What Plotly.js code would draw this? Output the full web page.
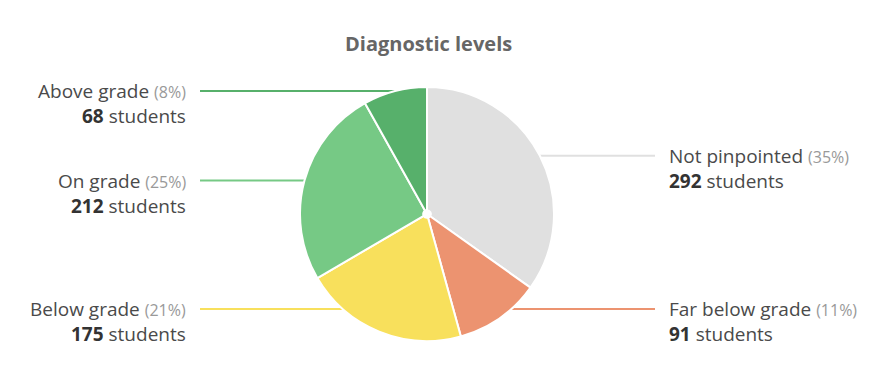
<!DOCTYPE html>
<html>
<head>
<meta charset="utf-8">
<script src="https://cdn.plot.ly/plotly-3.0.1.min.js"></script>
<style>html,body{margin:0;padding:0;background:#fff;}#chart{width:869px;height:385px;}</style>
</head>
<body>
<div id="chart"></div>
<script>
const categories = ['Not pinpointed', 'Far below grade', 'Below grade', 'On grade', 'Above grade'];
const students = [292, 91, 175, 212, 68];
const sliceColors = ['#e0e0e0', '#ec9370', '#f8e05c', '#76c985', '#57b06b'];
const chartTitle = 'Diagnostic levels';

const W = 869, H = 385;
const cx = 427, cy = 214, R = 127;
const leftLineX = 200, rightLineX = 655, labelGap = 12;
const maxLabelY = cy + 95;
const lineStep = 25;

const total = students.reduce((a, b) => a + b, 0);
const px = x => x / W;
const py = y => 1 - y / H;

const shapes = [];
const annotations = [];
let cum = 0;
categories.forEach((name, i) => {
  const v = students[i];
  const mid = (cum + v / 2) / total * 2 * Math.PI; // angle from 12 o'clock, clockwise
  cum += v;
  const right = Math.sin(mid) >= 0;
  let ly = cy - R * Math.cos(mid);
  ly = Math.min(ly, maxLabelY);
  const dy = ly - cy;
  const edgeDx = Math.sqrt(Math.max(0, R * R - dy * dy));
  const edgeX = right ? cx + edgeDx : cx - edgeDx;
  const outerX = right ? rightLineX : leftLineX;
  shapes.push({
    type: 'line', xref: 'paper', yref: 'paper',
    x0: px(edgeX), x1: px(outerX), y0: py(ly), y1: py(ly),
    line: {color: sliceColors[i], width: 2}, layer: 'below'
  });
  const pct = Math.round(v / total * 100);
  const tx = right ? outerX + labelGap : outerX - labelGap;
  const anchor = right ? 'left' : 'right';
  annotations.push({
    xref: 'paper', yref: 'paper', x: px(tx), y: py(ly),
    xanchor: anchor, yanchor: 'middle', showarrow: false,
    text: name + ' <span style="color:#999999;font-size:16px">(' + pct + '%)</span>',
    font: {family: 'Open Sans, sans-serif', size: 19, color: '#4a4a4a'}
  });
  annotations.push({
    xref: 'paper', yref: 'paper', x: px(tx), y: py(ly + lineStep),
    xanchor: anchor, yanchor: 'middle', showarrow: false,
    text: '<b style="color:#333333">' + v + '</b> students',
    font: {family: 'Open Sans, sans-serif', size: 19, color: '#4a4a4a'}
  });
});

const trace = {
  type: 'pie',
  labels: categories,
  values: students,
  sort: false,
  direction: 'clockwise',
  rotation: 0,
  hole: 0.03,
  textinfo: 'none',
  hoverinfo: 'label+value+percent',
  marker: {colors: sliceColors, line: {color: '#ffffff', width: 2}},
  domain: {x: [px(cx - R), px(cx + R)], y: [py(cy + R), py(cy - R)]},
  showlegend: false
};

annotations.push({
  xref: 'paper', yref: 'paper', x: px(428), y: py(43),
  xanchor: 'center', yanchor: 'middle', showarrow: false,
  text: '<b>' + chartTitle + '</b>',
  font: {family: 'Open Sans, sans-serif', size: 20, color: '#666666'}
});

Plotly.newPlot('chart', [trace], {
  width: W, height: H,
  margin: {l: 0, r: 0, t: 0, b: 0},
  paper_bgcolor: '#ffffff',
  showlegend: false,
  shapes: shapes,
  annotations: annotations
}, {displayModeBar: false, staticPlot: true});
</script>
</body>
</html>
